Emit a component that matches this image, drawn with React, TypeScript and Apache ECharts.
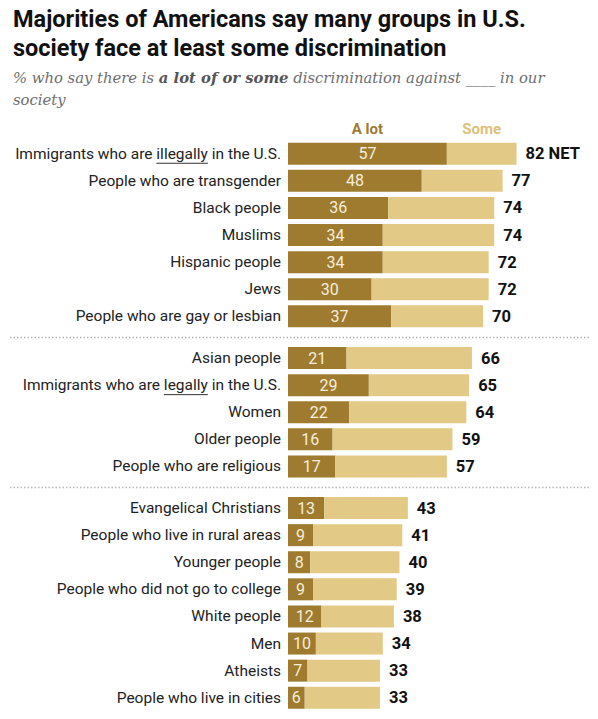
import React, { useEffect, useRef } from "react";
import * as echarts from "echarts";

// Group 1: highest shares
const groupCats1 = [
  "Immigrants who are illegally in the U.S.",
  "People who are transgender",
  "Black people",
  "Muslims",
  "Hispanic people",
  "Jews",
  "People who are gay or lesbian",
];
const aLot1 = [57, 48, 36, 34, 34, 30, 37];
const net1 = [82, 77, 74, 74, 72, 72, 70];

// Group 2
const groupCats2 = [
  "Asian people",
  "Immigrants who are legally in the U.S.",
  "Women",
  "Older people",
  "People who are religious",
];
const aLot2 = [21, 29, 22, 16, 17];
const net2 = [66, 65, 64, 59, 57];

// Group 3
const groupCats3 = [
  "Evangelical Christians",
  "People who live in rural areas",
  "Younger people",
  "People who did not go to college",
  "White people",
  "Men",
  "Atheists",
  "People who live in cities",
];
const aLot3 = [13, 9, 8, 9, 12, 10, 7, 6];
const net3 = [43, 41, 40, 39, 38, 34, 33, 33];

// Words underlined inside category labels: [group, category, word]
const underlined: [number, string, string][] = [
  [0, "Immigrants who are illegally in the U.S.", "illegally"],
  [1, "Immigrants who are legally in the U.S.", "legally"],
];

const W = 598;
const H = 719;
const DARK = "#9e7b2f";
const LIGHT = "#e2c985";
const GRID_LEFT = 288;
const X_MAX = 100;
const GRID_W = 278.7;
const PITCH = 27.1;
const GRID_TOPS = [140.2, 344.5, 494.5];
const LABEL_FONT = "Roboto";
const LABEL_SIZE = 15.5;
const LABEL_MARGIN = 7;

const groups = [
  { cats: groupCats1, aLot: aLot1, net: net1 },
  { cats: groupCats2, aLot: aLot2, net: net2 },
  { cats: groupCats3, aLot: aLot3, net: net3 },
];

export default function App() {
  const ref = useRef<HTMLDivElement>(null);

  useEffect(() => {
    if (!ref.current) return;
    const chart = echarts.init(ref.current, undefined, { renderer: "svg" });

    const grids = groups.map((g, i) => ({
      left: GRID_LEFT,
      top: GRID_TOPS[i],
      width: GRID_W,
      height: PITCH * g.cats.length,
    }));
    const xAxes = groups.map((_, i) => ({
      type: "value",
      gridIndex: i,
      min: 0,
      max: X_MAX,
      show: false,
      splitLine: { show: false },
    }));
    const yAxes = groups.map((g, i) => ({
      type: "category",
      gridIndex: i,
      data: g.cats,
      inverse: true,
      axisLine: { show: false },
      axisTick: { show: false },
      axisLabel: {
        fontFamily: LABEL_FONT,
        fontSize: LABEL_SIZE,
        color: "#222",
        margin: LABEL_MARGIN,
      },
    }));
    const series: any[] = [];
    groups.forEach((g, i) => {
      series.push({
        name: "A lot",
        type: "bar",
        xAxisIndex: i,
        yAxisIndex: i,
        stack: "s" + i,
        barWidth: 22,
        data: g.aLot,
        itemStyle: { color: DARK },
        label: {
          show: true,
          position: "inside",
          color: "#f6eedb",
          fontFamily: LABEL_FONT,
          fontSize: 16,
        },
      });
      series.push({
        name: "Some",
        type: "bar",
        xAxisIndex: i,
        yAxisIndex: i,
        stack: "s" + i,
        barWidth: 22,
        data: g.net.map((n, k) => n - g.aLot[k]),
        itemStyle: { color: LIGHT },
        label: {
          show: true,
          position: "right",
          distance: 9,
          color: "#111",
          fontFamily: LABEL_FONT,
          fontWeight: "bold",
          fontSize: 16.5,
          formatter: (p: any) =>
            g.net[p.dataIndex] + (i === 0 && p.dataIndex === 0 ? " NET" : ""),
        },
      });
    });

    chart.setOption({
      animation: false,
      backgroundColor: "#fff",
      title: [
        {
          text:
            "Majorities of Americans say many groups in U.S.\nsociety face at least some discrimination",
          left: 8,
          top: -1,
          textStyle: {
            fontFamily: "Roboto",
            fontWeight: "bold",
            fontSize: 23.5,
            lineHeight: 29,
            color: "#111",
          },
        },
        {
          text:
            "{n|% who say there is }{b|a lot of or some}{n| discrimination against ____ in our}\n{n|society}",
          left: 8,
          top: 61,
          textStyle: {
            fontWeight: "normal",
            rich: {
              n: {
                fontFamily: "DejaVu Serif",
                fontStyle: "italic",
                fontWeight: "normal",
                fontSize: 14.8,
                lineHeight: 22,
                color: "#6e6e6e",
              },
              b: {
                fontFamily: "DejaVu Serif",
                fontStyle: "italic",
                fontWeight: "bold",
                fontSize: 14.8,
                lineHeight: 22,
                color: "#555",
              },
            },
          },
        },
      ],
      grid: grids,
      xAxis: xAxes,
      yAxis: yAxes,
      series,
    });

    // Column headers, separators and underlines, placed from the axes
    const ctx = document.createElement("canvas").getContext("2d")!;
    ctx.font = `${LABEL_SIZE}px ${LABEL_FONT}`;
    const graphics: any[] = [];
    const firstY = chart.convertToPixel({ yAxisIndex: 0 }, groupCats1[0]) as number;
    const headerY = firstY - 25;
    const xA = chart.convertToPixel({ xAxisIndex: 0 }, aLot1[0] / 2) as number;
    const xS = chart.convertToPixel({ xAxisIndex: 0 }, (aLot1[0] + net1[0]) / 2) as number;
    graphics.push({
      type: "text",
      x: xA,
      y: headerY,
      style: {
        text: "A lot",
        fill: DARK,
        font: `bold 15px ${LABEL_FONT}`,
        textAlign: "center",
        textVerticalAlign: "middle",
      },
    });
    graphics.push({
      type: "text",
      x: xS,
      y: headerY,
      style: {
        text: "Some",
        fill: "#dcc07a",
        font: `bold 15px ${LABEL_FONT}`,
        textAlign: "center",
        textVerticalAlign: "middle",
      },
    });
    for (let i = 0; i < grids.length - 1; i++) {
      const bottom = grids[i].top + grids[i].height;
      const y = Math.round((bottom + grids[i + 1].top) / 2) + 0.5;
      graphics.push({
        type: "line",
        shape: { x1: 10, y1: y, x2: 590, y2: y },
        style: { stroke: "#b5b5b5", lineWidth: 1.5, lineDash: [1.5, 2] },
      });
    }
    underlined.forEach(([gi, cat, word]) => {
      const y = chart.convertToPixel({ yAxisIndex: gi }, cat) as number;
      const right = GRID_LEFT - LABEL_MARGIN;
      const full = ctx.measureText(cat).width;
      const idx = cat.indexOf(word);
      const pre = ctx.measureText(cat.slice(0, idx)).width;
      const ww = ctx.measureText(word).width;
      const x1 = right - full + pre;
      graphics.push({
        type: "line",
        shape: { x1, y1: y + 9.5, x2: x1 + ww, y2: y + 9.5 },
        style: { stroke: "#333", lineWidth: 1 },
      });
    });
    chart.setOption({ graphic: graphics });

    return () => chart.dispose();
  }, []);

  return (
    <div
      ref={ref}
      style={{ position: "fixed", left: 0, top: 0, width: W, height: H }}
    />
  );
}
